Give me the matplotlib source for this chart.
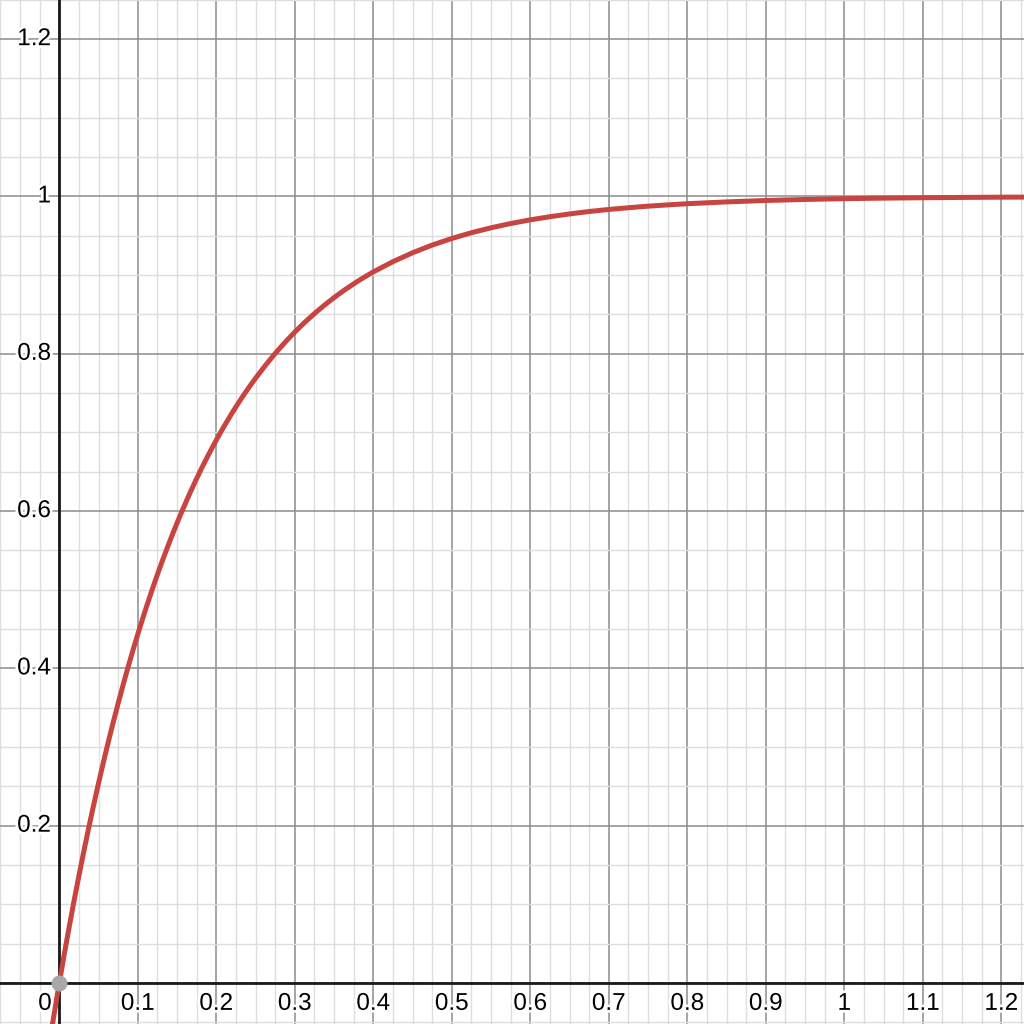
import numpy as np
import matplotlib
matplotlib.use("Agg")
import matplotlib.pyplot as plt
import matplotlib.patheffects as pe

# curve values
x_vals = [-0.01, 0.0, 0.00625, 0.0125, 0.01875, 0.025, 0.03125, 0.0375, 0.04375,
          0.05, 0.05625, 0.0625, 0.06875, 0.075, 0.08125, 0.0875, 0.09375,
          0.1, 0.10625, 0.1125, 0.11875, 0.125, 0.13125, 0.1375, 0.14375,
          0.15, 0.15625, 0.1625, 0.16875, 0.175, 0.18125, 0.1875, 0.19375,
          0.2, 0.20625, 0.2125, 0.21875, 0.225, 0.23125, 0.2375, 0.24375,
          0.25, 0.2625, 0.275, 0.2875, 0.3, 0.3125, 0.325, 0.3375,
          0.35, 0.3625, 0.375, 0.3875, 0.4, 0.425, 0.45, 0.475,
          0.5, 0.525, 0.55, 0.575, 0.6, 0.625, 0.65, 0.675,
          0.7, 0.725, 0.75, 0.775, 0.8, 0.85, 0.9, 0.95,
          1.0, 1.05, 1.1, 1.15, 1.2, 1.23]
y_vals = [-0.0604, 0.0, 0.0360, 0.0706, 0.1041, 0.1363, 0.1673, 0.1973, 0.2261,
          0.2540, 0.2808, 0.3067, 0.3316, 0.3556, 0.3788, 0.4012, 0.4227,
          0.4434, 0.4634, 0.4827, 0.5013, 0.5193, 0.5366, 0.5532, 0.5693,
          0.5848, 0.5997, 0.6141, 0.6280, 0.6414, 0.6543, 0.6667, 0.6787,
          0.6902, 0.7014, 0.7121, 0.7225, 0.7325, 0.7421, 0.7514, 0.7603,
          0.7689, 0.7852, 0.8004, 0.8145, 0.8276, 0.8398, 0.8511, 0.8616,
          0.8714, 0.8805, 0.8889, 0.8968, 0.9041, 0.9171, 0.9284, 0.9382,
          0.9466, 0.9539, 0.9602, 0.9656, 0.9703, 0.9743, 0.9778, 0.9809,
          0.9835, 0.9857, 0.9877, 0.9893, 0.9908, 0.9931, 0.9949, 0.9962,
          0.9972, 0.9979, 0.9984, 0.9988, 0.9991, 0.9992]

x_ticks = [0.1, 0.2, 0.3, 0.4, 0.5, 0.6, 0.7, 0.8, 0.9, 1.0, 1.1, 1.2]
x_labels = ["0.1", "0.2", "0.3", "0.4", "0.5", "0.6", "0.7", "0.8", "0.9", "1", "1.1", "1.2"]
y_ticks = [0.2, 0.4, 0.6, 0.8, 1.0, 1.2]
y_labels = ["0.2", "0.4", "0.6", "0.8", "1", "1.2"]

plt.rcParams['font.family'] = ['Liberation Sans', 'DejaVu Sans']

fig = plt.figure(figsize=(10.24, 10.24), dpi=100)
ax = fig.add_axes([0, 0, 1, 1])
ax.set_xlim(-0.0755, 1.2289)
ax.set_ylim(-0.0521, 1.2498)
for s in ax.spines.values():
    s.set_visible(False)
ax.set_xticks([])
ax.set_yticks([])

# grid: x minor 0.025 / major 0.1, y minor 0.05 / major 0.2
for gx in np.arange(-0.075, 1.25, 0.025):
    major = abs(gx / 0.1 - round(gx / 0.1)) < 1e-6
    ax.axvline(gx, color='#8c8c8c' if major else '#dedede', lw=1.1 if major else 1.0, zorder=1)
for gy in np.arange(-0.05, 1.3, 0.05):
    major = abs(gy / 0.2 - round(gy / 0.2)) < 1e-6
    ax.axhline(gy, color='#8c8c8c' if major else '#dedede', lw=1.1 if major else 1.0, zorder=1)

ax.axhline(0, color='#1a1a1a', lw=2, zorder=2)
ax.axvline(0, color='#1a1a1a', lw=2, zorder=2)

fs = 17.5
halo = [pe.withStroke(linewidth=4, foreground='white')]
for v, lab in zip(x_ticks, x_labels):
    ax.text(v, -0.0265, lab, ha='center', va='center', fontsize=fs,
            color='black', path_effects=halo, zorder=3)
for v, lab in zip(y_ticks, y_labels):
    ax.text(-0.0105, v, lab, ha='right', va='center', fontsize=fs,
            color='black', path_effects=halo, zorder=3)
ax.text(-0.0095, -0.0265, "0", ha='right', va='center', fontsize=fs,
        color='black', path_effects=halo, zorder=3)

ax.plot(x_vals, y_vals, color='#c74440', lw=3.6, solid_capstyle='round',
        solid_joinstyle='round', zorder=4)
ax.plot([0], [0], 'o', color='#a8a8a8', markersize=11.5, markeredgewidth=0, zorder=5)

fig.savefig("out.png", dpi=100)
